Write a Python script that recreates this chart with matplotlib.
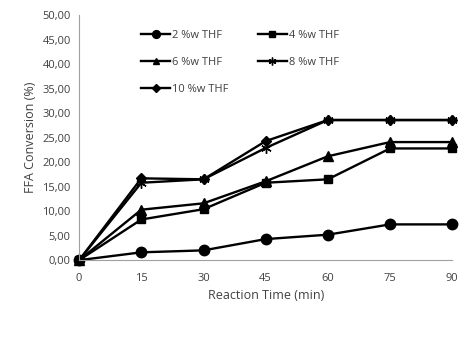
import matplotlib.pyplot as plt

# Reaction time (min) and FFA conversion (%) per THF loading
time_min = [0, 15, 30, 45, 60, 75, 90]
thf_2 = [0.0, 1.6, 2.0, 4.3, 5.2, 7.3, 7.3]
thf_4 = [0.0, 8.3, 10.4, 15.8, 16.5, 22.8, 22.8]
thf_6 = [0.0, 10.3, 11.6, 16.1, 21.2, 24.1, 24.1]
thf_8 = [0.0, 15.8, 16.5, 22.9, 28.6, 28.6, 28.6]
thf_10 = [0.0, 16.7, 16.5, 24.3, 28.6, 28.6, 28.6]

y_ticks = [0, 5, 10, 15, 20, 25, 30, 35, 40, 45, 50]
y_tick_labels = ['0,00', '5,00', '10,00', '15,00', '20,00', '25,00',
                 '30,00', '35,00', '40,00', '45,00', '50,00']

plt.rcParams['font.family'] = ['Open Sans', 'DejaVu Sans']

fig = plt.figure(figsize=(4.74, 3.37), dpi=100)
ax = fig.add_axes([0.167, 0.228, 0.787, 0.727])

# series: (label, values, marker, size)
series = [
    ('2 %w THF', thf_2, 'o', 7.5),
    ('4 %w THF', thf_4, 's', 5.5),
    ('6 %w THF', thf_6, '^', 6.5),
    ('8 %w THF', thf_8, (6, 2, 0), 7.5),
    ('10 %w THF', thf_10, 'D', 5.5),
]

handles = []
for label, vals, mk, ms in series:
    h, = ax.plot(time_min, vals, color='black', lw=1.7, marker=mk, markersize=ms,
                 markeredgewidth=1.0, label=label, clip_on=False)
    handles.append(h)

ax.set_xlim(0, 90)
ax.set_ylim(0, 50)
ax.set_xticks(time_min)
ax.set_xticklabels([str(t) for t in time_min])
ax.set_yticks(y_ticks)
ax.set_yticklabels(y_tick_labels)
ax.tick_params(length=0, labelsize=8, colors='#404040')
ax.tick_params(axis='x', pad=9)
ax.tick_params(axis='y', pad=6)

for side in ['top', 'right']:
    ax.spines[side].set_visible(False)
for side in ['left', 'bottom']:
    ax.spines[side].set_color('#a0a0a0')
    ax.spines[side].set_linewidth(0.8)

ax.set_xlabel('Reaction Time (min)', fontsize=9, color='#404040', labelpad=4)
ax.set_ylabel('FFA Conversion (%)', fontsize=9, color='#404040', labelpad=4)

# legend filled row by row like the original: column 1 = 2, 6, 10; column 2 = 4, 8
order = [0, 2, 4, 1, 3]
leg = ax.legend([handles[i] for i in order], [series[i][0] for i in order],
                loc='upper left', bbox_to_anchor=(0.14, 0.98), ncol=2,
                frameon=False, fontsize=8, markerscale=0.75,
                handlelength=2.6, columnspacing=2.6, labelspacing=1.45,
                handletextpad=0.2)
for t in leg.get_texts():
    t.set_color('#404040')

plt.savefig('out.png', dpi=100)
